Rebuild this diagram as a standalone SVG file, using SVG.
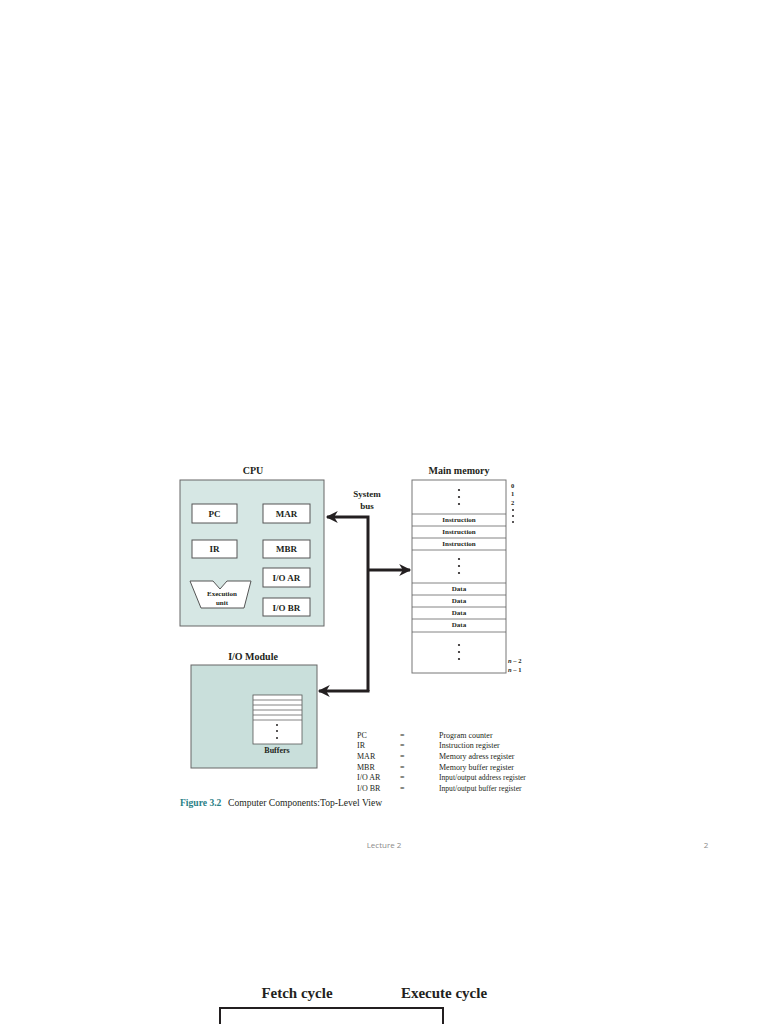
<svg xmlns="http://www.w3.org/2000/svg" width="768" height="1024" viewBox="0 0 768 1024">
<defs>
<style>
.t{font-family:"Liberation Serif","Times New Roman",serif;fill:#231f20}
.b{font-weight:bold}
.box{fill:#fff;stroke:#555;stroke-width:1}
.mod{stroke:#666;stroke-width:1}
.ln{stroke:#666;stroke-width:0.8;fill:none}
.bus{stroke:#231f20;stroke-width:3;fill:none}
.dot{fill:#231f20}
</style>
<marker id="ah" viewBox="0 0 10 10" refX="9" refY="5" markerWidth="5" markerHeight="4" orient="auto" markerUnits="strokeWidth">
<path d="M0,0 L10,5 L0,10 L3,5 z" fill="#231f20"/>
</marker>
</defs>
<rect width="768" height="1024" fill="#fff"/>

<g id="cpu">
<text class="t b" x="253" y="474" font-size="10" text-anchor="middle">CPU</text>
<rect class="mod" x="180" y="480" width="144" height="146" fill="#d6e7e4"/>
<g id="pc"><rect class="box" x="192" y="504" width="45" height="19"/><text class="t b" x="214.5" y="517" font-size="9" text-anchor="middle">PC</text></g>
<g id="mar"><rect class="box" x="263" y="504" width="47" height="19"/><text class="t b" x="286.5" y="517" font-size="9" text-anchor="middle">MAR</text></g>
<g id="ir"><rect class="box" x="192" y="540" width="45" height="18"/><text class="t b" x="214.5" y="552" font-size="9" text-anchor="middle">IR</text></g>
<g id="mbr"><rect class="box" x="263" y="540" width="47" height="18"/><text class="t b" x="286.5" y="552" font-size="9" text-anchor="middle">MBR</text></g>
<g id="ioar"><rect class="box" x="263" y="568" width="47" height="19"/><text class="t b" x="286.5" y="581" font-size="9" text-anchor="middle">I/O AR</text></g>
<g id="iobr"><rect class="box" x="263" y="598" width="47" height="18"/><text class="t b" x="286.5" y="611" font-size="9" text-anchor="middle">I/O BR</text></g>
<g id="exec">
<path d="M190,581 L213,581 L220,589 L227,581 L251,581 L244,608 L201,608 Z" fill="#fff" stroke="#555" stroke-width="1"/>
<text class="t b" x="222" y="596" font-size="7" text-anchor="middle">Execution</text>
<text class="t b" x="222" y="605" font-size="7" text-anchor="middle">unit</text>
</g>
</g>

<g id="memory">
<text class="t b" x="459" y="474" font-size="10" text-anchor="middle">Main memory</text>
<rect x="412" y="480" width="94" height="193" fill="#fff" stroke="#777" stroke-width="1"/>
<g class="ln">
<line x1="412" y1="514" x2="506" y2="514"/>
<line x1="412" y1="526" x2="506" y2="526"/>
<line x1="412" y1="538" x2="506" y2="538"/>
<line x1="412" y1="550" x2="506" y2="550"/>
<line x1="412" y1="583" x2="506" y2="583"/>
<line x1="412" y1="595" x2="506" y2="595"/>
<line x1="412" y1="607" x2="506" y2="607"/>
<line x1="412" y1="619" x2="506" y2="619"/>
<line x1="412" y1="632" x2="506" y2="632"/>
</g>
<g class="dot">
<circle cx="459" cy="490" r="1.1"/><circle cx="459" cy="497" r="1.1"/><circle cx="459" cy="504" r="1.1"/>
<circle cx="459" cy="559" r="1.1"/><circle cx="459" cy="566" r="1.1"/><circle cx="459" cy="573" r="1.1"/>
<circle cx="459" cy="645" r="1.1"/><circle cx="459" cy="652" r="1.1"/><circle cx="459" cy="659" r="1.1"/>
<circle cx="513" cy="510" r="1"/><circle cx="513" cy="516" r="1"/><circle cx="513" cy="522" r="1"/>
</g>
<g font-size="7" class="t b" text-anchor="middle">
<text x="459" y="522">Instruction</text>
<text x="459" y="534">Instruction</text>
<text x="459" y="546">Instruction</text>
<text x="459" y="591">Data</text>
<text x="459" y="603">Data</text>
<text x="459" y="615">Data</text>
<text x="459" y="627">Data</text>
</g>
<g font-size="6.5" class="t b">
<text x="511" y="488">0</text>
<text x="511" y="496">1</text>
<text x="511" y="505">2</text>
<text x="508" y="663" font-style="italic">n <tspan font-style="normal">– 2</tspan></text>
<text x="508" y="672" font-style="italic">n <tspan font-style="normal">– 1</tspan></text>
</g>
</g>

<g id="iomodule">
<text class="t b" x="253" y="660" font-size="10" text-anchor="middle">I/O Module</text>
<rect class="mod" x="191" y="665" width="126" height="103" fill="#c9dfdb"/>
<rect x="253" y="695" width="49" height="49" fill="#fff" stroke="#555" stroke-width="0.8"/>
<g class="ln">
<line x1="253" y1="700" x2="302" y2="700"/>
<line x1="253" y1="705" x2="302" y2="705"/>
<line x1="253" y1="710" x2="302" y2="710"/>
<line x1="253" y1="715" x2="302" y2="715"/>
<line x1="253" y1="720" x2="302" y2="720"/>
</g>
<g class="dot"><circle cx="277" cy="725" r="1"/><circle cx="277" cy="731" r="1"/><circle cx="277" cy="738" r="1"/></g>
<text class="t b" x="277" y="753" font-size="8" text-anchor="middle">Buffers</text>
</g>

<g id="connectors">
<text class="t b" x="367" y="497" font-size="9" text-anchor="middle">System</text>
<text class="t b" x="367" y="509" font-size="9" text-anchor="middle">bus</text>
<polyline class="bus" points="368,691 368,517 327,517" marker-end="url(#ah)"/>
<line class="bus" x1="368" y1="570" x2="410" y2="570" marker-end="url(#ah)"/>
<polyline class="bus" points="368,690 368,691 319,691" marker-end="url(#ah)"/>
</g>

<g id="legend" class="t" font-size="8">
<text x="357" y="738">PC</text><text x="400" y="738">=</text><text x="439" y="738">Program counter</text>
<text x="357" y="748">IR</text><text x="400" y="748">=</text><text x="439" y="748">Instruction register</text>
<text x="357" y="759">MAR</text><text x="400" y="759">=</text><text x="439" y="759">Memory adress register</text>
<text x="357" y="770">MBR</text><text x="400" y="770">=</text><text x="439" y="770">Memory buffer register</text>
<text x="357" y="780">I/O AR</text><text x="400" y="780">=</text><text x="439" y="780" font-size="7.6">Input/output address register</text>
<text x="357" y="791">I/O BR</text><text x="400" y="791">=</text><text x="439" y="791" font-size="7.6">Input/output buffer register</text>
</g>

<g id="caption" font-size="9.6">
<text class="t b" x="180" y="806" style="fill:#2a7f86">Figure 3.2</text>
<text class="t" x="228" y="806">Computer Components:Top-Level View</text>
</g>

<g id="footer" font-family="'Open Sans','Liberation Sans',sans-serif" font-size="8" fill="#8a8a8a">
<text x="384" y="848" text-anchor="middle">Lecture 2</text>
<text x="706" y="848" text-anchor="middle">2</text>
</g>

<g id="cycles">
<text class="t b" x="297" y="998" font-size="15" text-anchor="middle">Fetch cycle</text>
<text class="t b" x="444" y="998" font-size="15" text-anchor="middle">Execute cycle</text>
<polyline points="220,1030 220,1008 443,1008 443,1030" fill="none" stroke="#231f20" stroke-width="2"/>
</g>
</svg>
